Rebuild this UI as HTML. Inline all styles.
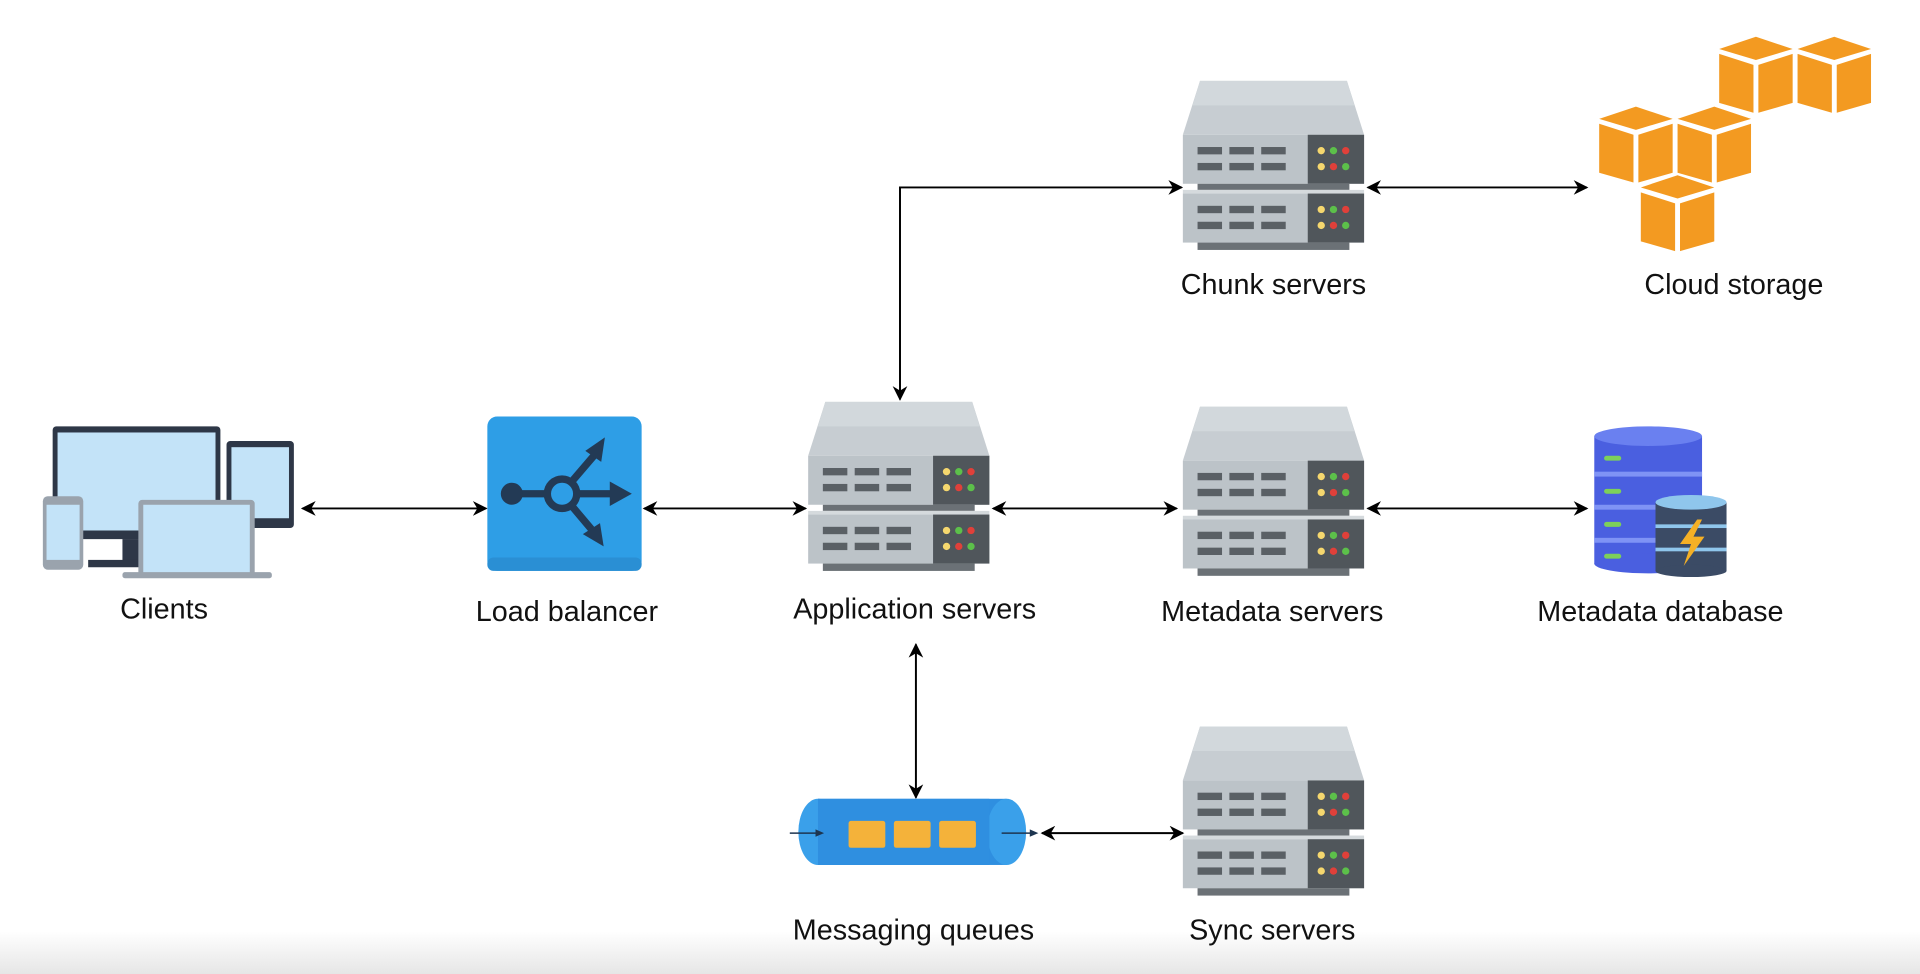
<!DOCTYPE html>
<html><head><meta charset="utf-8"><style>
html,body{margin:0;padding:0;background:#fff;}
svg{display:block;}
text{font-family:"Liberation Sans",sans-serif;font-size:23.5px;fill:#111;text-anchor:middle;}
</style></head><body>
<svg width="1920" height="974" viewBox="0 0 1568 795" preserveAspectRatio="none" xmlns="http://www.w3.org/2000/svg">
<defs>
<linearGradient id="bot" x1="0" y1="0" x2="0" y2="1"><stop offset="0" stop-color="#fff"/><stop offset="1" stop-color="#e6e6e6"/></linearGradient>
<marker id="ah" viewBox="0 0 10 10" refX="9" refY="5" markerWidth="12" markerHeight="12" orient="auto-start-reverse" markerUnits="userSpaceOnUse">
<path d="M0,0 L10,5 L0,10 L3,5 z" fill="#000"/></marker>
<g id="unit">
<rect x="0" y="0" width="148" height="40" fill="#bcc3c8"/>
<rect x="102" y="0" width="46" height="40" fill="#50565b"/>
<g fill="#5a6065">
<rect x="12" y="10" width="20" height="6"/><rect x="38" y="10" width="20" height="6"/><rect x="64" y="10" width="20" height="6"/>
<rect x="12" y="23" width="20" height="6"/><rect x="38" y="23" width="20" height="6"/><rect x="64" y="23" width="20" height="6"/>
</g>
<circle cx="113" cy="13" r="3" fill="#f5d76e"/><circle cx="123" cy="13" r="3" fill="#5cc04a"/><circle cx="133" cy="13" r="3" fill="#e0403a"/>
<circle cx="113" cy="26" r="3" fill="#f5d76e"/><circle cx="123" cy="26" r="3" fill="#e0403a"/><circle cx="133" cy="26" r="3" fill="#5cc04a"/>
</g>
<g id="srv">
<path d="M14,0 L134,0 L148,44 L0,44 Z" fill="#c7cdd2"/>
<path d="M14,0 L134,0 L140,20 L8,20 Z" fill="#d2d8dc"/>
<use href="#unit" y="44"/>
<rect x="12" y="84" width="124" height="5" fill="#6b7176"/>
<rect x="0" y="89" width="148" height="3" fill="#d5dadd"/>
<use href="#unit" y="92"/>
<rect x="12" y="132" width="124" height="6" fill="#6b7176"/>
</g>
<g id="cube">
<path d="M0,12 L30,2 L60,12 L30,21 Z" fill="#f39a21"/>
<path d="M0,16 L28,25 L28,64 L0,56 Z" fill="#f39a21"/>
<path d="M32,25 L60,16 L60,56 L32,64 Z" fill="#f39a21"/>
</g>
</defs>
<rect x="0" y="760" width="1568" height="35" fill="url(#bot)"/>

<g stroke="#000" stroke-width="1.6" fill="none">
<line x1="247" y1="415" x2="397" y2="415" marker-start="url(#ah)" marker-end="url(#ah)"/>
<line x1="526" y1="415" x2="658" y2="415" marker-start="url(#ah)" marker-end="url(#ah)"/>
<line x1="811" y1="415" x2="961" y2="415" marker-start="url(#ah)" marker-end="url(#ah)"/>
<line x1="1117" y1="415" x2="1296" y2="415" marker-start="url(#ah)" marker-end="url(#ah)"/>
<polyline points="735,326 735,153 965,153" marker-start="url(#ah)" marker-end="url(#ah)"/>
<line x1="1117" y1="153" x2="1296" y2="153" marker-start="url(#ah)" marker-end="url(#ah)"/>
<line x1="748" y1="526" x2="748" y2="651" marker-start="url(#ah)" marker-end="url(#ah)"/>
<line x1="851" y1="680" x2="966" y2="680" marker-start="url(#ah)" marker-end="url(#ah)"/>
</g>

<use href="#srv" x="966" y="66"/>
<use href="#srv" x="660" y="328"/>
<use href="#srv" x="966" y="332"/>
<use href="#srv" x="966" y="593"/>

<use href="#cube" x="1404" y="28"/>
<use href="#cube" x="1468" y="28"/>
<use href="#cube" x="1306" y="85"/>
<use href="#cube" x="1370" y="85"/>
<use href="#cube" x="1340" y="141"/>

<rect x="1302" y="356" width="88" height="104" fill="#4a5fe0"/>
<ellipse cx="1346" cy="460" rx="44" ry="8" fill="#4a5fe0"/>
<ellipse cx="1346" cy="356" rx="44" ry="8" fill="#6a80f0"/>
<g fill="#7f93f5"><rect x="1302" y="385" width="88" height="4"/><rect x="1302" y="412" width="88" height="4"/><rect x="1302" y="439" width="88" height="4"/></g>
<g fill="#7dd05a"><rect x="1310" y="372" width="14" height="4" rx="2"/><rect x="1310" y="399" width="14" height="4" rx="2"/><rect x="1310" y="426" width="14" height="4" rx="2"/><rect x="1310" y="452" width="14" height="4" rx="2"/></g>
<rect x="1352" y="410" width="58" height="56" fill="#3b4b65"/>
<ellipse cx="1381" cy="466" rx="29" ry="5" fill="#3b4b65"/>
<ellipse cx="1381" cy="410" rx="29" ry="6" fill="#8fc6ec"/>
<rect x="1352" y="428" width="58" height="3" fill="#8fc6ec"/><rect x="1352" y="447" width="58" height="3" fill="#8fc6ec"/>
<path d="M1386,424 L1372,444 L1381,444 L1375,462 L1392,438 L1383,438 L1390,424 Z" fill="#f5b025"/>

<rect x="43" y="348" width="137" height="92" rx="3" fill="#2e3747"/>
<rect x="47" y="353" width="129" height="80" fill="#c3e3f8"/>
<rect x="100" y="440" width="25" height="18" fill="#2e3747"/>
<rect x="72" y="457" width="50" height="6" fill="#2e3747"/>
<rect x="185" y="360" width="55" height="71" rx="3" fill="#2e3747"/>
<rect x="189" y="365" width="47" height="58" fill="#c3e3f8"/>
<rect x="35" y="405" width="33" height="60" rx="4" fill="#9aa3ad"/>
<rect x="38" y="412" width="27" height="45" fill="#c3e3f8"/>
<rect x="113" y="408" width="95" height="62" rx="3" fill="#9aa3ad"/>
<rect x="117" y="412" width="87" height="56" fill="#c3e3f8"/>
<rect x="100" y="467" width="122" height="5" rx="2" fill="#9aa3ad"/>

<rect x="398" y="340" width="126" height="126" rx="8" fill="#2e9ee6"/>
<rect x="398" y="455" width="126" height="11" rx="5" fill="#2a8fd4"/>
<g stroke="#233a55" stroke-width="6" fill="none">
<line x1="418" y1="403" x2="447" y2="403"/>
<circle cx="459" cy="403" r="12"/>
<line x1="471" y1="403" x2="500" y2="403"/>
<line x1="467" y1="393" x2="485" y2="372"/>
<line x1="467" y1="413" x2="483" y2="432"/>
</g>
<circle cx="418" cy="403" r="9" fill="#233a55"/>
<path d="M498,393 L516,403 L498,413 Z" fill="#233a55"/>
<path d="M478,368 L494,357 L491,377 Z" fill="#233a55"/>
<path d="M476,436 L493,446 L490,427 Z" fill="#233a55"/>

<rect x="668" y="652" width="154" height="54" fill="#2f8fe0"/>
<ellipse cx="668" cy="679" rx="16" ry="27" fill="#3aa0ea"/>
<ellipse cx="822" cy="679" rx="16" ry="27" fill="#3aa0ea"/>
<rect x="668" y="652" width="140" height="54" fill="#2f8fe0"/>
<g fill="#f4b23a"><rect x="693" y="670" width="30" height="22" rx="2"/><rect x="730" y="670" width="30" height="22" rx="2"/><rect x="767" y="670" width="30" height="22" rx="2"/></g>
<g stroke="#1d3550" stroke-width="1.2"><line x1="645" y1="680" x2="670" y2="680"/><line x1="818" y1="680" x2="845" y2="680"/></g>
<path d="M666,677 L673,680 L666,683 Z M841,677 L848,680 L841,683 Z" fill="#1d3550"/>

<text x="1040" y="240">Chunk servers</text>
<text x="1416" y="240">Cloud storage</text>
<text x="134" y="505">Clients</text>
<text x="463" y="507">Load balancer</text>
<text x="747" y="505">Application servers</text>
<text x="1039" y="507">Metadata servers</text>
<text x="1356" y="507">Metadata database</text>
<text x="746" y="767">Messaging queues</text>
<text x="1039" y="767">Sync servers</text>
</svg>
</body></html>
